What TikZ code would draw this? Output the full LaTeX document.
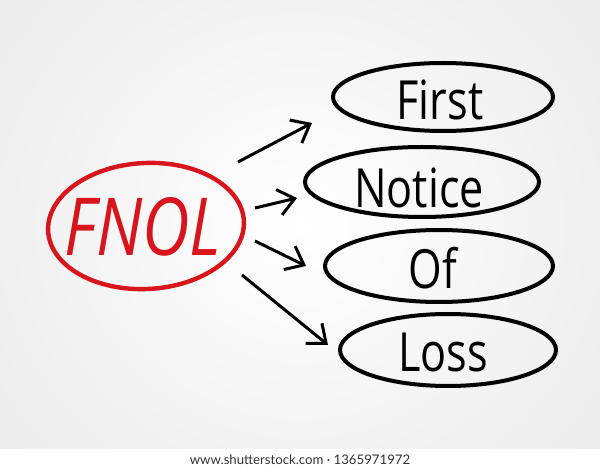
\documentclass[tikz,border=0pt]{standalone}
\usepackage{fontspec}
\setmainfont{Open Sans}
\newfontfamily\captionfont{Lato}
\usetikzlibrary{shapes.geometric,arrows.meta}
\definecolor{fnolred}{HTML}{D8141C}
\tikzset{
  bubble/.style={draw=black, line width=2pt, ellipse, inner sep=0pt},
  word/.style={font=\fontsize{27}{30}\selectfont, text=black, xscale=0.8, inner sep=0pt},
  link/.style={line width=1.5pt, -{Straight Barb[length=8pt,width=13pt,line width=1.5pt]}},
}
\begin{document}
\begin{tikzpicture}[x=0.5pt,y=-0.5pt]
\useasboundingbox (0,0) rectangle (600,470);
\shade[inner color=white, outer color=black!9, shading=radial] (-150,-200) rectangle (750,650);
\fill[white] (0,449) rectangle (600,470);
% central red ellipse
\node[draw=fnolred, line width=2.2pt, ellipse, inner sep=0pt, minimum width=98pt, minimum height=63pt, rotate=3] (fnol) at (146,226) {};
\node[font=\fontsize{40}{44}\selectfont\itshape, text=fnolred, xscale=0.82, inner sep=0pt] (fnoltext) at (143,227) {FNOL};
% right ellipses
\node[bubble, minimum width=110pt, minimum height=34pt] (e1) at (443,97) {};
\node[bubble, minimum width=117pt, minimum height=35pt] (e2) at (422,182) {};
\node[bubble, minimum width=114pt, minimum height=36pt] (e3) at (439,266) {};
\node[bubble, minimum width=108pt, minimum height=36pt] (e4) at (448,350) {};
\node[word] (t1) at (440,100) {First};
\node[word] (t2) at (419,188) {Notice};
\node[word] (t3) at (433,268) {Of};
\node[word] (t4) at (443,352) {Loss};
% arrows
\coordinate (a1s) at (238,162); \coordinate (a1e) at (312,123);
\coordinate (a2s) at (255,208); \coordinate (a2e) at (297,198);
\coordinate (a3s) at (255,241); \coordinate (a3e) at (306,266);
\coordinate (a4s) at (242,275); \coordinate (a4e) at (328,345);
\draw[link] (a1s) -- (a1e);
\draw[link] (a2s) -- (a2e);
\draw[link] (a3s) -- (a3e);
\draw[link] (a4s) -- (a4e);
% caption
\node[font=\captionfont\fontsize{6.6}{8}\selectfont, text=black!80, inner sep=0pt] (cap) at (300,460) {www.shutterstock.com · 1365971972};
\end{tikzpicture}
\end{document}
